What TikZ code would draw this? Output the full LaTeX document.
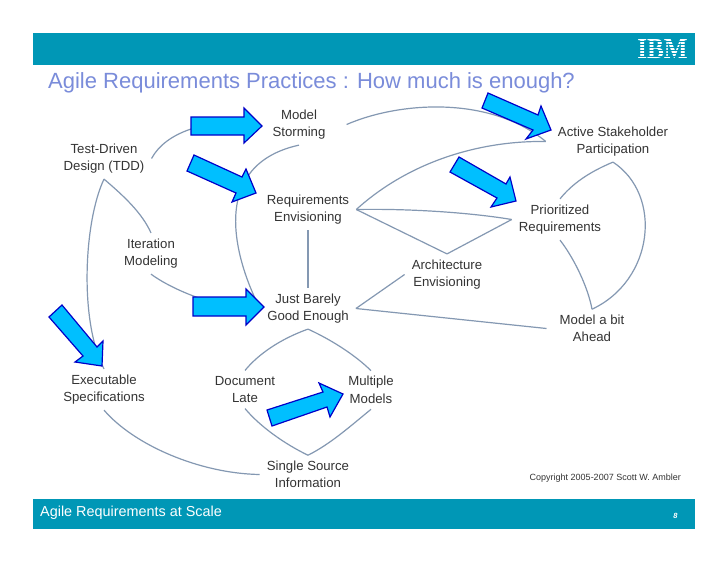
\documentclass[tikz,border=0pt]{standalone}
\usepackage{fontspec}
\setmainfont{Liberation Sans}
\newfontfamily\logofont{Liberation Serif}
\definecolor{barteal}{RGB}{0,151,182}
\definecolor{titleblue}{RGB}{122,140,218}
\definecolor{labelgrey}{RGB}{52,52,52}
\definecolor{linkblue}{RGB}{132,152,178}
\definecolor{pointerfill}{RGB}{0,191,255}
\definecolor{pointeredge}{RGB}{0,0,200}
\tikzset{
  practice/.style={align=center,text=labelgrey,inner xsep=7pt,inner ysep=5.5pt,
    font=\fontsize{13.2}{17.5}\selectfont},
  link/.style={draw=linkblue,line width=1.2pt},
  pointer/.style={fill=pointerfill,draw=pointeredge,line width=1.2pt,line join=miter},
  bar/.style={fill=barteal,draw=none},
}
\begin{document}
\begin{tikzpicture}[x=1pt,y=-1pt]
\useasboundingbox (0,0) rectangle (728,563);
\fill[white] (0,0) rectangle (728,563);

% header and footer bars
\fill[bar] (33,33) rectangle (695,64.5);
\fill[bar] (33,499) rectangle (695,529);
\node[anchor=center,text=white,font=\logofont\bfseries\fontsize{29}{29}\selectfont,inner sep=0pt,xscale=0.87] (logo) at (662.5,49.5) {IBM};
\foreach \yy in {41.5,44.5,47.5,50.5,53.5,56.5}
  \draw[barteal,line width=0.8pt] (632,\yy) -- (692,\yy);

\node[anchor=base west,inner sep=0pt,text=titleblue,font=\fontsize{22}{26}\selectfont] (title) at (48,88) {Agile Requirements Practices : How much is enough?};
\node[anchor=base west,inner sep=0pt,text=white,font=\fontsize{14.4}{16}\selectfont] (footer) at (40,516) {Agile Requirements at Scale};
\node[anchor=base,inner sep=0pt,text=white,font=\bfseries\itshape\fontsize{7.5}{9}\selectfont] (page) at (675.5,518) {8};
\node[anchor=base east,inner sep=0pt,text=labelgrey,font=\fontsize{9}{11}\selectfont] (copy) at (681,480) {Copyright 2005-2007 Scott W. Ambler};

% practices
\node[practice] (tdd) at (104,158.5) {Test-Driven\\Design (TDD)};
\node[practice] (storm) at (299,124.5) {Model\\Storming};
\node[practice] (req) at (308,209.5) {Requirements\\Envisioning};
\node[practice] (iter) at (151,253.5) {Iteration\\Modeling};
\node[practice] (just) at (308,308.5) {Just Barely\\Good Enough};
\node[practice] (exec) at (104,389.5) {Executable\\Specifications};
\node[practice] (doc) at (245,389.5) {Document\\Late};
\node[practice] (multi) at (371,390) {Multiple\\Models};
\node[practice] (single) at (308,474.5) {Single Source\\Information};
\node[practice] (active) at (613,141.5) {Active Stakeholder\\Participation};
\node[practice] (prior) at (560,219.5) {Prioritized\\Requirements};
\node[practice] (arch) at (447,274.5) {Architecture\\Envisioning};
\node[practice] (ahead) at (592,328.5) {Model a bit\\Ahead};

% links
\draw[link,shorten >=10pt] (tdd.east) .. controls +(14,-26) and +(-60,-6) .. (storm.west);
\draw[link] ([xshift=14pt]storm.east) .. controls +(53,-23) and +(-56,-46) .. ([xshift=-5pt]active.west);
\draw[link] (storm.south) .. controls +(-95,21) and +(-22,-42) .. (just.west);
\draw[link] (req.south) -- (just.north);
\draw[link] (req.east) .. controls +(53,-48) and +(-66,-1) .. ([xshift=-5pt]active.west);
\draw[link] (req.east) .. controls +(53,-1) and +(-42,-7) .. (prior.west);
\draw[link] (req.east) -- (arch.north);
\draw[link] (arch.north) -- (prior.west);
\draw[link] (arch.west) -- (just.east);
\draw[link] (just.east) -- ([xshift=-6pt]ahead.west);
\draw[link] (active.south) .. controls +(-24,10) and +(12,-15) .. (prior.north);
\draw[link] (active.south) .. controls +(50,33) and +(62,-29) .. (ahead.north);
\draw[link] (prior.south) .. controls +(14,18) and +(-4,-22) .. (ahead.north);
\draw[link] (tdd.south) .. controls +(-20,42) and +(-25,-48) .. (exec.north);
\draw[link] (tdd.south) .. controls +(20,17) and +(-9,-20) .. (iter.north);
\draw[link,shorten >=10pt] (iter.south) .. controls +(23,17) and +(-40,0) .. (just.west);
\draw[link] (just.south) .. controls +(-28,10) and +(13,-16) .. (doc.north);
\draw[link] (just.south) .. controls +(22,10) and +(-16,-16) .. (multi.north);
\draw[link] (doc.south) .. controls +(15,18) and +(-23,-11) .. (single.north);
\draw[link] (multi.south) .. controls +(-22,18) and +(22,-11) .. (single.north);
\draw[link] (exec.south) .. controls +(30,35) and +(-60,-1) .. (single.west);

% block arrows on top
\draw[pointer] (191,117) -- (244,117) -- (244,108) -- (262,126) -- (244,143) -- (244,135) -- (191,135) -- cycle;
\draw[pointer] (194,155) -- (242,177) -- (246,169) -- (256,193) -- (232,202) -- (236,193) -- (187,171) -- cycle;
\draw[pointer] (488,93) -- (538,115) -- (541,106) -- (551,130) -- (526,139) -- (533,130) -- (482,108) -- cycle;
\draw[pointer] (459,157) -- (506,184) -- (510,177) -- (516,201) -- (491,207) -- (497,198) -- (450,172) -- cycle;
\draw[pointer] (193,297) -- (246,297) -- (246,289) -- (264,307) -- (246,325) -- (246,316) -- (193,316) -- cycle;
\draw[pointer] (62,305) -- (97,347) -- (103,341) -- (102,366) -- (75,362) -- (83,356) -- (49,317) -- cycle;
\draw[pointer] (267,410) -- (323,392) -- (319,383) -- (343,394) -- (330,417) -- (327,407) -- (272,426) -- cycle;
\end{tikzpicture}
\end{document}
